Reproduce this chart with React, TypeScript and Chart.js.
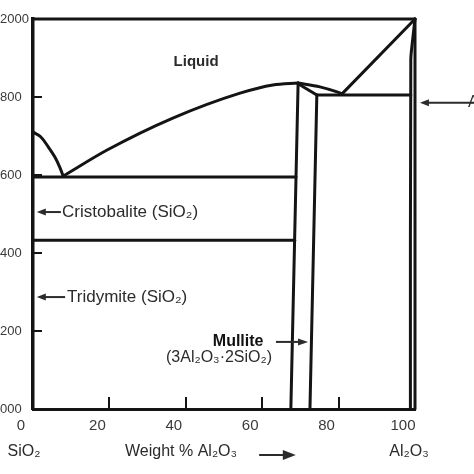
import React, { useEffect, useRef } from 'react';
import { Chart, registerables } from 'chart.js';

Chart.register(...registerables);

const FONT = '"Liberation Sans", Arial, Helvetica, sans-serif';
const INK = '#141414';
const TEXT = '#2b2b2b';

// Axis ticks (composition in wt % Al2O3, temperature in °C)
const xTickValues = [0, 20, 40, 60, 80, 100];
const xTickLabels = ['0', '20', '40', '60', '80', '100'];
const yTickValues = [1000, 1200, 1400, 1600, 1800, 2000];
const yTickLabels = ['000', '200', '400', '600', '800', '2000'];

// Phase boundaries
const silicaLiquidusX = [0, 2.0, 4.0, 5.8, 7.0, 7.9];
const silicaLiquidusT = [1710, 1698, 1672, 1645, 1620, 1597];

const mulliteLiquidusX = [7.9, 19.4, 36.6, 54.2, 62.8, 69.4];
const mulliteLiquidusT = [1597, 1664, 1746, 1810, 1831, 1836];

const mulliteDomeX = [69.4, 75.1, 79.6, 80.9];
const mulliteDomeT = [1836, 1826, 1813, 1808];

const aluminaLiquidusX = [80.9, 100];
const aluminaLiquidusT = [1808, 2000];

const mulliteCapX = [69.4, 74.3];
const mulliteCapT = [1834, 1805];

const mulliteLeftX = [69.4, 67.5];
const mulliteLeftT = [1836, 1000];

const mulliteRightX = [74.3, 72.5];
const mulliteRightT = [1805, 1000];

const aluminaEutecticX = [74.3, 98.9];
const aluminaEutecticT = [1805, 1805];

const aluminaSolidusX = [100, 99.4, 98.9, 98.8];
const aluminaSolidusT = [2000, 1948, 1895, 1000];

const silicaEutecticX = [0, 68.85];
const silicaEutecticT = [1595, 1595];

const tridymiteX = [0, 68.5];
const tridymiteT = [1433, 1433];

const topFrameX = [0, 100];
const topFrameT = [2000, 2000];

const rightFrameX = [100, 100];
const rightFrameT = [2000, 1000];

const pts = (xs: number[], ts: number[]) => xs.map((x, i) => ({ x, y: ts[i] }));

function arrow(ctx: CanvasRenderingContext2D, x1: number, y1: number, x2: number, y2: number, head = 10, half = 4) {
  const a = Math.atan2(y2 - y1, x2 - x1);
  const c = Math.cos(a);
  const s = Math.sin(a);
  ctx.beginPath();
  ctx.moveTo(x1, y1);
  ctx.lineTo(x2 - c * head * 0.6, y2 - s * head * 0.6);
  ctx.stroke();
  ctx.beginPath();
  ctx.moveTo(x2, y2);
  ctx.lineTo(x2 - head * c + half * s, y2 - head * s - half * c);
  ctx.lineTo(x2 - head * c - half * s, y2 - head * s + half * c);
  ctx.closePath();
  ctx.fill();
}

const annotations = {
  id: 'annotations',
  afterDraw(chart: any) {
    const { ctx, chartArea } = chart;
    const xs = chart.scales.x;
    const ys = chart.scales.y;
    const px = (v: number) => xs.getPixelForValue(v);
    const py = (v: number) => ys.getPixelForValue(v);
    ctx.save();
    ctx.fillStyle = TEXT;
    ctx.strokeStyle = TEXT;
    ctx.lineWidth = 2;
    ctx.textBaseline = 'middle';

    ctx.font = `bold 15px ${FONT}`;
    ctx.textAlign = 'center';
    ctx.fillText('Liquid', px(42.7), py(1890));

    ctx.font = `17px ${FONT}`;
    ctx.textAlign = 'left';
    ctx.fillText('Cristobalite (SiO₂)', px(7.6), py(1505));
    arrow(ctx, px(7.3), py(1505), px(1.0), py(1505), 9, 3.5);

    ctx.fillText('Tridymite (SiO₂)', px(8.9), py(1287));
    arrow(ctx, px(8.4), py(1287), px(1.0), py(1287), 9, 3.5);

    ctx.font = `bold 16px ${FONT}`;
    ctx.textAlign = 'center';
    ctx.fillStyle = '#111';
    ctx.fillText('Mullite', px(53.7), py(1172));
    ctx.fillStyle = TEXT;
    ctx.font = `16px ${FONT}`;
    ctx.fillText('(3Al₂O₃·2SiO₂)', px(48.7), py(1131));
    arrow(ctx, px(63.6), py(1172), px(72.0), py(1172), 10, 3.5);

    // arrow coming from the right margin
    arrow(ctx, chart.width, py(1785), px(101.3), py(1785), 9, 3.5);
    ctx.textAlign = 'left';
    ctx.font = `16px ${FONT}`;
    ctx.fillText('Al₂O₃ + Liquid', chart.width - 6, py(1785));

    // bottom captions
    const yb = chartArea.bottom + 43;
    ctx.font = `16px ${FONT}`;
    ctx.textAlign = 'center';
    ctx.fillText('SiO₂', px(0) - 9, yb);
    ctx.textAlign = 'left';
    ctx.fillText('Weight % Al₂O₃', px(24.1), yb);
    arrow(ctx, px(59.2), yb + 3, px(68.8), yb + 3, 13, 5);
    ctx.textAlign = 'center';
    ctx.fillText('Al₂O₃', px(100) - 6, yb);
    ctx.restore();
  },
};

export default function App() {
  const ref = useRef<HTMLCanvasElement | null>(null);

  useEffect(() => {
    if (!ref.current) return;
    const line = (xs: number[], ts: number[], tension = 0, mono = false) => ({
      data: pts(xs, ts),
      showLine: true,
      borderColor: INK,
      backgroundColor: INK,
      borderWidth: 3,
      pointRadius: 0,
      fill: false,
      clip: false as any,
      tension,
      cubicInterpolationMode: mono ? ('monotone' as const) : ('default' as const),
      borderCapStyle: 'round' as const,
      borderJoinStyle: 'round' as const,
    });

    const chart = new Chart(ref.current, {
      type: 'scatter',
      data: {
        datasets: [
          line(topFrameX, topFrameT),
          line(rightFrameX, rightFrameT),
          line(silicaLiquidusX, silicaLiquidusT, 0.35),
          line(mulliteLiquidusX, mulliteLiquidusT, 0.4, true),
          line(mulliteDomeX, mulliteDomeT, 0.4, true),
          line(aluminaLiquidusX, aluminaLiquidusT),
          line(mulliteCapX, mulliteCapT),
          line(mulliteLeftX, mulliteLeftT),
          line(mulliteRightX, mulliteRightT),
          line(aluminaEutecticX, aluminaEutecticT),
          line(aluminaSolidusX, aluminaSolidusT, 0.3),
          line(silicaEutecticX, silicaEutecticT),
          line(tridymiteX, tridymiteT),
        ] as any,
      },
      options: {
        responsive: false,
        animation: false,
        devicePixelRatio: 1,
        events: [],
        layout: { padding: { left: 0, top: 19, right: 59, bottom: 0 } },
        plugins: { legend: { display: false }, tooltip: { enabled: false } },
        scales: {
          x: {
            type: 'linear',
            position: 'bottom',
            min: 0,
            max: 100,
            afterBuildTicks: (s: any) => {
              s.ticks = xTickValues.map((v) => ({ value: v }));
            },
            afterFit: (s: any) => {
              s.height = 65;
            },
            ticks: {
              autoSkip: false,
              maxRotation: 0,
              padding: 20,
              labelOffset: -12,
              color: '#3a3a3a',
              font: { family: FONT, size: 15 },
              callback: (_v: any, i: number) => xTickLabels[i],
            },
            grid: { drawOnChartArea: false, drawTicks: true, tickLength: -12, color: INK, lineWidth: 2 },
            border: { display: true, color: INK, width: 3 },
          },
          y: {
            type: 'linear',
            position: 'left',
            min: 1000,
            max: 2000,
            afterBuildTicks: (s: any) => {
              s.ticks = yTickValues.map((v) => ({ value: v }));
            },
            afterFit: (s: any) => {
              s.width = 33;
            },
            ticks: {
              autoSkip: false,
              crossAlign: 'far',
              padding: 4,
              color: '#3a3a3a',
              font: { family: FONT, size: 13 },
              callback: (_v: any, i: number) => yTickLabels[i],
            },
            grid: { drawOnChartArea: false, drawTicks: true, tickLength: -9, color: INK, lineWidth: 2 },
            border: { display: true, color: INK, width: 3.5 },
          },
        },
      } as any,
      plugins: [annotations],
    });
    return () => chart.destroy();
  }, []);

  return (
    <div style={{ position: 'fixed', left: 0, top: 0, width: 474, height: 474, background: '#fff' }}>
      <canvas ref={ref} width={474} height={474} style={{ display: 'block' }} />
    </div>
  );
}
